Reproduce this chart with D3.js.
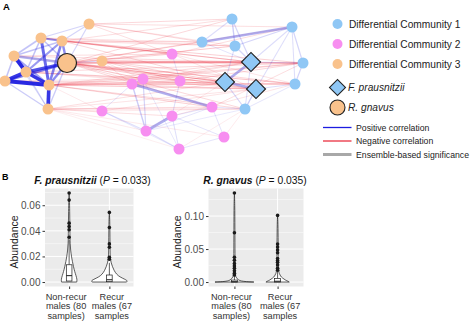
<!DOCTYPE html>
<html lang="en">
<head>
<meta charset="utf-8">
<script src="https://cdn.jsdelivr.net/npm/d3@7"></script>
<style>
  body { margin: 0; background: #fff; }
  svg { font-family: "Liberation Sans", Arial, sans-serif; }
</style>
</head>
<body>
<svg id="fig" width="474" height="323"></svg>
<script>
// ---- panel A: network (layout units) ----
const community3 = [
  ["o1", 84, 5], ["o2", 36, 19], ["o3", 57, 22], ["o4", 9, 37], ["o5", 97, 42],
  ["o6", 21, 53], ["o7", 0, 62], ["o8", 44, 66], ["o9", 43, 90]
];
const rgnavus = [["RG", 62, 44]];
const community2 = [
  ["p1", 167, 35], ["p2", 138, 60], ["p3", 127, 65], ["p4", 175, 62], ["p5", 97, 92],
  ["p6", 207, 88], ["p7", 167, 97], ["p8", 141, 112], ["p9", 219, 118], ["p10", 174, 130]
];
const community1 = [
  ["b1", 227, 0], ["b2", 287, 8], ["b3", 197, 23], ["b4", 230, 27], ["b5", 298, 44],
  ["b6", 290, 65], ["b7", 240, 90]
];
const fprausnitzii = [["F1", 246, 43], ["F2", 220, 63], ["F3", 251, 70]];

// [source, target, correlation strength]
const positiveEdges = [
  ["o4","o6",0.95],["o6","o7",0.9],["o7","o8",0.95],["o6","o8",0.9],["o8","o9",0.9],
  ["o2","o8",0.7],["o3","o8",0.6],["o6","RG",0.8],["o7","RG",0.65],["o8","RG",0.55],
  ["o3","RG",0.55],["o2","o3",0.5],["o2","o4",0.3],["o4","o7",0.3],["o7","o9",0.25],
  ["o9","RG",0.25],["o1","o2",0.2],["o1","o3",0.2],["o1","RG",0.2],["o2","o6",0.3],
  ["o3","o6",0.5],["o2","RG",0.3],["o4","o8",0.45],["o3","o4",0.3],["o6","o9",0.2],
  ["o5","RG",0.15],["o4","o9",0.15],
  ["b1","b3",0.15],["b1","b4",0.25],["b1","F1",0.2],["b2","b4",0.2],["b2","b5",0.2],
  ["b2","F1",0.15],["b4","F1",0.2],["b5","b6",0.2],["b6","F3",0.15],["F3","b7",0.25],
  ["F2","b7",0.2],["F1","b7",0.15],["b5","F1",0.15],["b2","b6",0.15],["b4","F2",0.15],
  ["b6","b7",0.12],["b3","F1",0.12],["b2","F3",0.15],
  ["p3","p8",0.25],["p2","p8",0.2],["p8","p10",0.15],["p5","p8",0.15],["p7","p10",0.15],
  ["p6","p8",0.12],["p9","p10",0.12],["p6","p7",0.12],["p2","p3",0.2],["p1","p4",0.12],
  ["p4","p7",0.15],["p3","p5",0.12],["p7","p9",0.12],["p5","p10",0.1],["p2","p10",0.1],
  ["p6","p9",0.12],["p6","b7",0.12],["p8","b7",0.1]
];
const negativeEdges = [
  ["RG","F1",0.6],["RG","F2",0.55],["RG","F3",0.45],["RG","b5",0.5],["RG","b6",0.45],
  ["RG","b3",0.35],["RG","b4",0.4],["RG","p1",0.35],["RG","p4",0.4],["RG","p2",0.45],
  ["RG","b1",0.3],["RG","b7",0.3],["RG","p6",0.3],["RG","b2",0.25],
  ["o5","F1",0.45],["o5","b5",0.4],["o5","b6",0.3],["o5","F2",0.35],["o5","p4",0.3],
  ["o3","F1",0.4],["o3","b5",0.35],["o3","b4",0.3],["o3","b3",0.3],["o3","p1",0.3],
  ["o3","F2",0.3],["o3","b1",0.25],
  ["o1","b1",0.3],["o1","b2",0.25],["o1","b3",0.3],["o1","p1",0.25],["o1","b4",0.2],
  ["o8","F2",0.45],["o8","F3",0.4],["o8","b6",0.35],["o8","p2",0.35],["o8","p4",0.4],
  ["o8","b7",0.3],["o8","p6",0.35],["o8","b5",0.3],["o8","F1",0.3],
  ["o9","p6",0.3],["o9","b7",0.3],["o9","p7",0.25],["o9","F2",0.25],["o9","p9",0.15],
  ["o9","p5",0.2],["o9","F3",0.2],
  ["o2","p1",0.3],["o2","b4",0.25],["o2","F1",0.3],["o2","b3",0.2],
  ["o6","F2",0.35],["o6","p4",0.3],["o6","b5",0.3],["o6","F3",0.25],
  ["o4","F1",0.3],["o4","p1",0.25],["o4","F2",0.25],
  ["o7","F3",0.3],["o7","b6",0.3],["o7","p2",0.2],
  ["p2","b5",0.3],["p2","F1",0.3],["p3","b6",0.25],["p4","b5",0.3],["p1","b2",0.25],
  ["p6","b5",0.25],["p5","F3",0.2],["p7","b6",0.2],["p1","F3",0.2],["p3","F1",0.2],
  ["p5","b7",0.15],["p9","b7",0.15],["p4","F3",0.25],["p8","F2",0.15],["p10","b7",0.12],
  ["p1","b6",0.2],["o5","p3",0.2],["o9","p8",0.15],["o8","p5",0.15],["o9","p10",0.1],
  ["o5","p2",0.2]
];
const ensembleEdges = [["o4","RG"],["b3","b2"],["p3","p6"],["p8","p7"],["F2","F3"],["F2","F1"]];

const legendItems = ["Differential Community 1", "Differential Community 2", "Differential Community 3"];
const legendLines = ["Positive correlation", "Negative correlation", "Ensemble-based significance"];

// ---- panel B: violins ----
const groups = ["Non-recur", "Recur"];
const groupLabels = [["Non-recur", "males (80", "samples)"], ["Recur", "males (67", "samples"]];

// [value, relative density]
const fpShapeNonRecur = [[0,0.42],[0.002,0.44],[0.005,0.38],[0.008,0.31],[0.012,0.24],[0.016,0.18],[0.02,0.13],[0.025,0.08],[0.03,0.055],[0.035,0.045],[0.045,0.04],[0.055,0.03],[0.065,0.02],[0.0696,0]];
const fpShapeRecur = [[0,0.95],[0.001,1.0],[0.002,0.88],[0.004,0.58],[0.006,0.4],[0.009,0.26],[0.012,0.17],[0.015,0.1],[0.018,0.06],[0.022,0.04],[0.03,0.035],[0.04,0.03],[0.05,0.02],[0.0544,0]];
const rgShapeNonRecur = [[0,1.0],[0.0006,0.6],[0.0015,0.35],[0.003,0.22],[0.005,0.13],[0.008,0.07],[0.012,0.045],[0.02,0.035],[0.04,0.03],[0.08,0.025],[0.12,0.02],[0.135,0]];
const rgShapeRecur = [[0,0.6],[0.001,0.55],[0.003,0.4],[0.006,0.25],[0.009,0.15],[0.013,0.08],[0.018,0.05],[0.03,0.035],[0.06,0.03],[0.09,0.02],[0.101,0]];

// q1, median, q3, upper whisker
const fpBoxes = [[0.0008,0.005,0.0135,0.033],[0.0003,0.0018,0.0055,0.015]];
const rgBoxes = [[0,0.0005,0.003,0.008],[0,0.0012,0.0055,0.016]];

const fpOutNonRecur = [0.0696,0.064,0.046,0.0434,0.0408,0.035];
const fpOutRecur = [0.0544,0.0426,0.0298,0.0272,0.0194,0.0178];
const rgOutNonRecur = [0.135,0.0746,0.0375,0.033,0.028,0.0245,0.021,0.017,0.0135,0.0105];
const rgOutRecur = [0.101,0.0575,0.053,0.0485,0.0445,0.0355,0.0325,0.03,0.026,0.021,0.018];

const fpTicks = [0, 0.02, 0.04, 0.06];
const rgTicks = [0, 0.05, 0.10];

// colours
const colBlue = "#8fc7f5", colPink = "#f78ef0", colOrange = "#f9c28c";
const posCol = "#1c1ce0", negCol = "#ea3040";

var svg = d3.select("#fig");

// ================= panel A =================
var gx = d3.scaleLinear().domain([0, 298]).range([5, 303]);
var gy = d3.scaleLinear().domain([0, 130]).range([19, 149]);

var nodes = {};
[[community3, colOrange], [rgnavus, colOrange], [community2, colPink], [community1, colBlue], [fprausnitzii, colBlue]]
  .forEach(function(pair) {
    pair[0].forEach(function(n) { nodes[n[0]] = {x: gx(n[1]), y: gy(n[2]), c: pair[1]}; });
  });

var net = svg.append("g");
var wScale = d3.scaleLinear().domain([0, 1]).range([0.5, 4]);
var opScale = d3.scalePow().exponent(1.3).domain([0, 1]).range([0.07, 1]);

net.append("g").selectAll("line").data(negativeEdges).enter().append("line")
  .attr("x1", d => nodes[d[0]].x).attr("y1", d => nodes[d[0]].y)
  .attr("x2", d => nodes[d[1]].x).attr("y2", d => nodes[d[1]].y)
  .attr("stroke", negCol).attr("stroke-width", d => 0.5 + d[2] * 0.8)
  .attr("stroke-opacity", d => 0.08 + d[2] * 0.6);

net.append("g").selectAll("line").data(positiveEdges).enter().append("line")
  .attr("x1", d => nodes[d[0]].x).attr("y1", d => nodes[d[0]].y)
  .attr("x2", d => nodes[d[1]].x).attr("y2", d => nodes[d[1]].y)
  .attr("stroke", posCol).attr("stroke-width", d => wScale(d[2]))
  .attr("stroke-opacity", d => opScale(d[2]));

net.append("g").selectAll("line").data(ensembleEdges).enter().append("line")
  .attr("x1", d => nodes[d[0]].x).attr("y1", d => nodes[d[0]].y)
  .attr("x2", d => nodes[d[1]].x).attr("y2", d => nodes[d[1]].y)
  .attr("stroke", "#6060e0").attr("stroke-width", 2.6).attr("stroke-opacity", 0.5);

var plain = community1.concat(community2, community3);
net.append("g").selectAll("circle").data(plain).enter().append("circle")
  .attr("cx", d => nodes[d[0]].x).attr("cy", d => nodes[d[0]].y)
  .attr("r", 5.5).attr("fill", d => nodes[d[0]].c);

net.append("g").selectAll("circle").data(rgnavus).enter().append("circle")
  .attr("cx", d => nodes[d[0]].x).attr("cy", d => nodes[d[0]].y)
  .attr("r", 9.5).attr("fill", colOrange).attr("stroke", "#222").attr("stroke-width", 1.2);

var diamond = d3.symbol().type(d3.symbolSquare).size(180);
net.append("g").selectAll("path").data(fprausnitzii).enter().append("path")
  .attr("d", diamond)
  .attr("transform", d => `translate(${nodes[d[0]].x},${nodes[d[0]].y}) rotate(45)`)
  .attr("fill", colBlue).attr("stroke", "#222").attr("stroke-width", 1.2);

svg.append("text").attr("x", 3).attr("y", 10).attr("font-size", 9.5)
  .attr("font-weight", "bold").text("A");

// legend
var leg = svg.append("g");
var legY = d3.scalePoint().domain(legendItems).range([24, 64]);
var legCol = d3.scaleOrdinal().domain(legendItems).range([colBlue, colPink, colOrange]);
leg.selectAll("circle").data(legendItems).enter().append("circle")
  .attr("cx", 337.5).attr("cy", d => legY(d)).attr("r", 5).attr("fill", d => legCol(d));
leg.selectAll("text.li").data(legendItems).enter().append("text")
  .attr("x", 349).attr("y", d => legY(d) + 3.6).attr("font-size", 10.2).attr("fill", "#222").text(d => d);

leg.append("path").attr("d", d3.symbol().type(d3.symbolSquare).size(128))
  .attr("transform", "translate(337.5,87.5) rotate(45)")
  .attr("fill", colBlue).attr("stroke", "#222").attr("stroke-width", 1.1);
leg.append("text").attr("x", 348).attr("y", 91).attr("font-size", 10.2)
  .attr("font-style", "italic").attr("fill", "#222").text("F. prausnitzii");
leg.append("circle").attr("cx", 337.5).attr("cy", 107.5).attr("r", 7.5)
  .attr("fill", colOrange).attr("stroke", "#222").attr("stroke-width", 1.1);
leg.append("text").attr("x", 348).attr("y", 111).attr("font-size", 10.2)
  .attr("font-style", "italic").attr("fill", "#222").text("R. gnavus");

var lineY = d3.scalePoint().domain(legendLines).range([127.5, 154.5]);
var lineStyle = d3.scaleOrdinal().domain(legendLines).range([[posCol, 1.3], [negCol, 1.3], ["#a8a8a8", 3]]);
leg.selectAll("line").data(legendLines).enter().append("line")
  .attr("x1", 323).attr("x2", 351.5).attr("y1", d => lineY(d)).attr("y2", d => lineY(d))
  .attr("stroke", d => lineStyle(d)[0]).attr("stroke-width", d => lineStyle(d)[1]);
leg.selectAll("text.ll").data(legendLines).enter().append("text")
  .attr("x", 356).attr("y", d => lineY(d) + 3).attr("font-size", 8.7).attr("fill", "#222").text(d => d);

// ================= panel B =================
svg.append("text").attr("x", 2).attr("y", 179.5).attr("font-size", 9)
  .attr("font-weight", "bold").text("B");

function violinPanel(cfg) {
  var g = svg.append("g");
  var top = 188.5, bottom = 286.5;
  var all = cfg.shapes[0].concat(cfg.shapes[1]).map(d => d[0]);
  var mx = d3.max(all), pad = mx * 0.05;
  var y = d3.scaleLinear().domain([-pad, mx + pad]).range([bottom, top]);
  var x = d3.scalePoint().domain(groups).range([cfg.left, cfg.right]).padding(0.6);
  var half = d3.scaleLinear().domain([0, 1]).range([0, x.step() * 0.45]);

  g.append("rect").attr("x", cfg.left).attr("y", top)
    .attr("width", cfg.right - cfg.left).attr("height", bottom - top).attr("fill", "#ebebeb");
  var minor = d3.range(cfg.ticks.length).map(i => cfg.ticks[i] + (cfg.ticks[1] - cfg.ticks[0]) / 2)
    .filter(v => y(v) > top);
  g.selectAll("line.mn").data(minor).enter().append("line")
    .attr("x1", cfg.left).attr("x2", cfg.right).attr("y1", d => y(d)).attr("y2", d => y(d))
    .attr("stroke", "#fff").attr("stroke-width", 0.5);
  g.selectAll("line.mj").data(cfg.ticks).enter().append("line")
    .attr("x1", cfg.left).attr("x2", cfg.right).attr("y1", d => y(d)).attr("y2", d => y(d))
    .attr("stroke", "#fff").attr("stroke-width", 1);
  g.selectAll("line.vx").data(groups).enter().append("line")
    .attr("x1", d => x(d)).attr("x2", d => x(d)).attr("y1", top).attr("y2", bottom)
    .attr("stroke", "#fff").attr("stroke-width", 1);

  groups.forEach(function(grp, i) {
    var cx = x(grp);
    var area = d3.area().curve(d3.curveBasis)
      .y(d => y(d[0])).x0(d => cx - half(d[1])).x1(d => cx + half(d[1]));
    g.append("path").attr("d", area(cfg.shapes[i]))
      .attr("fill", "#fff").attr("stroke", "#1a1a1a").attr("stroke-width", 0.7);
    var b = cfg.boxes[i], bw = x.step() * 0.07;
    g.append("line").attr("x1", cx).attr("x2", cx).attr("y1", y(b[2])).attr("y2", y(b[3]))
      .attr("stroke", "#1a1a1a").attr("stroke-width", 0.7);
    g.append("rect").attr("x", cx - bw).attr("width", bw * 2)
      .attr("y", y(b[2])).attr("height", Math.max(y(b[0]) - y(b[2]), 1))
      .attr("fill", "#fff").attr("stroke", "#1a1a1a").attr("stroke-width", 0.7);
    g.append("line").attr("x1", cx - bw).attr("x2", cx + bw).attr("y1", y(b[1])).attr("y2", y(b[1]))
      .attr("stroke", "#1a1a1a").attr("stroke-width", 1);
    g.selectAll(null).data(cfg.outliers[i]).enter().append("circle")
      .attr("cx", cx).attr("cy", d => y(d)).attr("r", 1.8).attr("fill", "#1a1a1a");
  });

  var ya = g.append("g").attr("transform", `translate(${cfg.left},0)`)
    .call(d3.axisLeft(y).tickValues(cfg.ticks).tickFormat(d3.format(".2f")).tickSize(2.5).tickPadding(2));
  ya.select(".domain").remove();
  ya.selectAll("line").attr("stroke", "#333");
  ya.selectAll("text").attr("font-size", 10).attr("fill", "#4d4d4d").attr("font-family", null);

  var xa = g.append("g").attr("transform", `translate(0,${bottom})`)
    .call(d3.axisBottom(x).tickSize(2.5).tickFormat(""));
  xa.select(".domain").remove();
  xa.selectAll("line").attr("stroke", "#333");
  // labels sit a little outward of their ticks in the original
  groups.forEach(function(grp, i) {
    var lx = x(grp) + (i === 0 ? -3 : 2.5);
    var t = g.append("text").attr("text-anchor", "middle").attr("font-size", 9.2).attr("fill", "#333");
    groupLabels[i].forEach(function(s, k) {
      t.append("tspan").attr("x", lx).attr("y", 299.5 + k * 9.5).text(s);
    });
  });

  g.append("text").attr("transform", `translate(${cfg.left - 27.5},242) rotate(-90)`)
    .attr("text-anchor", "middle").attr("font-size", 10.5).attr("fill", "#222").text("Abundance");

  var tt = g.append("text").attr("x", cfg.titleX).attr("y", 183.5).attr("text-anchor", "middle")
    .attr("font-size", 10.3).attr("fill", "#111");
  tt.append("tspan").attr("font-weight", "bold").attr("font-style", "italic").text(cfg.species);
  tt.append("tspan").text(" (");
  tt.append("tspan").attr("font-style", "italic").text("P");
  tt.append("tspan").text(" = " + cfg.p + ")");
}

violinPanel({left: 45, right: 133.5, titleX: 92.5, species: "F. prausnitzii", p: "0.033",
  shapes: [fpShapeNonRecur, fpShapeRecur], boxes: fpBoxes, outliers: [fpOutNonRecur, fpOutRecur], ticks: fpTicks});
violinPanel({left: 208.5, right: 303.5, titleX: 255, species: "R. gnavus", p: "0.035",
  shapes: [rgShapeNonRecur, rgShapeRecur], boxes: rgBoxes, outliers: [rgOutNonRecur, rgOutRecur], ticks: rgTicks});
</script>
</body>
</html>
